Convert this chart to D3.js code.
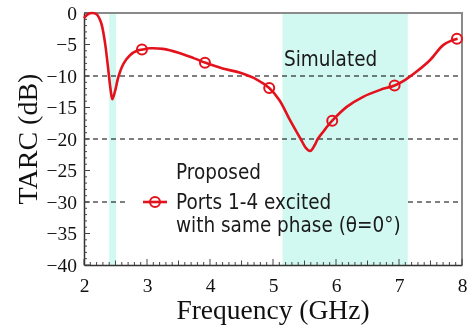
<!DOCTYPE html>
<html>
<head>
<meta charset="utf-8">
<script src="https://cdn.jsdelivr.net/npm/d3@7"></script>
<style>
  html, body { margin: 0; padding: 0; background: #fff; }
  svg { display: block; }
</style>
</head>
<body>
<svg id="chart" width="474" height="328"></svg>
<script>
// TARC of the proposed antenna, ports 1-4 excited in phase
const freqGHz = [2.00, 2.06, 2.13, 2.20, 2.27, 2.33, 2.38, 2.42, 2.45, 2.49, 2.55, 2.63, 2.73, 2.84, 2.93,
                 3.05, 3.25, 3.50, 3.75, 3.93, 4.20, 4.48, 4.75, 4.94, 5.10, 5.27, 5.44, 5.52, 5.59, 5.66,
                 5.71, 5.80, 5.94, 6.17, 6.43, 6.70, 6.93, 7.10, 7.28, 7.49, 7.70, 7.83, 7.93];
const tarcDb  = [-0.8, -0.2, 0.0, -0.2, -1.5, -4.5, -8.5, -12.0, -13.7, -12.5, -10.0, -8.0, -6.7, -6.0, -5.8,
                 -5.6, -5.7, -6.3, -7.2, -7.9, -8.8, -9.5, -10.6, -11.9, -13.8, -17.0, -20.0, -21.4, -21.9, -21.0,
                 -20.0, -18.8, -17.1, -14.9, -13.3, -12.2, -11.5, -10.6, -9.3, -7.5, -5.1, -4.4, -4.1];

// circle markers placed along the curve
const markerGHz = [2.92, 3.92, 4.94, 5.94, 6.93, 7.92];
const markerDb  = [-5.8, -7.9, -11.9, -17.1, -11.5, -4.1];

// shaded operating bands (GHz)
const bandStart = [2.40, 5.15];
const bandEnd   = [2.51, 7.14];

// axes
const xTicks = [2, 3, 4, 5, 6, 7, 8];
const yTicks = [0, -5, -10, -15, -20, -25, -30, -35, -40];
const gridDb = [-10, -20, -30];

const svg = d3.select('#chart');
const pLeft = 84, pTop = 13, pRight = 462, pBottom = 265;

const x = d3.scaleLinear().domain([2, 8]).range([pLeft, pRight]);
const y = d3.scaleLinear().domain([0, -40]).range([pTop, pBottom]);

// dashed reference lines
svg.append('g').selectAll('line').data(gridDb).join('line')
  .attr('x1', pLeft).attr('x2', pRight)
  .attr('y1', d => y(d)).attr('y2', d => y(d))
  .attr('stroke', '#555').attr('stroke-width', 1.3)
  .attr('stroke-dasharray', '5,4');

// legend backdrop hides the reference line behind the legend
const legendBox = { x0: 127, x1: 404, y0: 150, y1: 245 };
svg.append('rect')
  .attr('x', legendBox.x0).attr('y', legendBox.y0)
  .attr('width', legendBox.x1 - legendBox.x0).attr('height', legendBox.y1 - legendBox.y0)
  .attr('fill', '#fff');

// bands, multiplied so dashed lines stay visible
svg.append('g').selectAll('rect').data(bandStart).join('rect')
  .attr('x', (d) => x(d))
  .attr('width', (d, i) => x(bandEnd[i]) - x(d))
  .attr('y', pTop).attr('height', pBottom - pTop)
  .attr('fill', '#d2f9f1')
  .style('mix-blend-mode', 'multiply');

// frame: top and right in grey
svg.append('path')
  .attr('d', `M${pLeft},${pTop}H${pRight}V${pBottom}`)
  .attr('fill', 'none').attr('stroke', '#8a8a8a').attr('stroke-width', 2);

// x axis (ticks inward)
const serif = '"Liberation Serif", "Times New Roman", serif';
const xAxis = d3.axisBottom(x).tickValues(xTicks).tickSize(0).tickPadding(0).tickFormat(d3.format('d'));
const gx = svg.append('g').attr('transform', `translate(0,${pBottom})`).call(xAxis);
gx.select('.domain').attr('stroke', '#333').attr('stroke-width', 1.5);
gx.selectAll('text').attr('y', 27).attr('dy', 0)
  .attr('font-family', serif).attr('font-size', 19.5).attr('fill', '#111');
const xMinor = d3.range(20, 81).map(v => v / 10);
svg.append('g').selectAll('line').data(xMinor).join('line')
  .attr('x1', d => x(d)).attr('x2', d => x(d))
  .attr('y1', pBottom)
  .attr('y2', (d, i) => pBottom - (i % 10 === 0 ? 6 : (i % 5 === 0 ? 4.5 : 3)))
  .attr('stroke', '#444').attr('stroke-width', 1);

// y axis (ticks inward)
const yAxis = d3.axisLeft(y).tickValues(yTicks).tickSize(0).tickPadding(7).tickFormat(d3.format('d'));
const gy = svg.append('g').attr('transform', `translate(${pLeft},0)`).call(yAxis);
gy.select('.domain').attr('stroke', '#333').attr('stroke-width', 1.5);
gy.selectAll('text')
  .attr('font-family', serif).attr('font-size', 19.5).attr('fill', '#111');
const yMinor = d3.range(0, 41).map(v => -v);
svg.append('g').selectAll('line').data(yMinor).join('line')
  .attr('y1', d => y(d)).attr('y2', d => y(d))
  .attr('x1', pLeft)
  .attr('x2', (d, i) => pLeft + (i % 5 === 0 ? 6 : 3))
  .attr('stroke', '#444').attr('stroke-width', 1);

// axis titles
svg.append('text')
  .attr('x', (pLeft + pRight) / 2).attr('y', 319)
  .attr('text-anchor', 'middle')
  .attr('font-family', serif).attr('font-size', 27.5).attr('fill', '#111')
  .text('Frequency (GHz)');
svg.append('text')
  .attr('transform', `translate(37,${(pTop + pBottom) / 2}) rotate(-90)`)
  .attr('text-anchor', 'middle')
  .attr('font-family', serif).attr('font-size', 28).attr('fill', '#111')
  .text('TARC (dB)');

// TARC curve
const red = '#e4121c';
const line = d3.line()
  .x((d, i) => x(freqGHz[i]))
  .y(d => y(d))
  .curve(d3.curveCatmullRom.alpha(0.5));
svg.append('path')
  .attr('d', line(tarcDb))
  .attr('fill', 'none').attr('stroke', red).attr('stroke-width', 2.6)
  .attr('stroke-linejoin', 'round');

svg.append('g').selectAll('circle').data(markerDb).join('circle')
  .attr('cx', (d, i) => x(markerGHz[i])).attr('cy', d => y(d))
  .attr('r', 5)
  .attr('fill', 'none').attr('stroke', red).attr('stroke-width', 2);

// annotations: a narrow humanist sans, slightly condensed
const sans = '"DejaVu Sans", Verdana, sans-serif';
function label(px, py, lines, step) {
  const t = svg.append('text')
    .attr('transform', `translate(${px},${py}) scale(0.9,1)`)
    .attr('font-family', sans).attr('font-size', 20.5).attr('fill', '#1a1a1a');
  lines.forEach((s, i) => t.append('tspan').attr('x', 0).attr('y', i * step).text(s));
}
label(284, 66, ['Simulated'], 0);
label(176, 179, ['Proposed'], 0);

// legend entry
const legY = 202;
svg.append('line')
  .attr('x1', 143).attr('x2', 167).attr('y1', legY).attr('y2', legY)
  .attr('stroke', red).attr('stroke-width', 2.6);
svg.append('circle').attr('cx', 155).attr('cy', legY).attr('r', 5)
  .attr('fill', 'none').attr('stroke', red).attr('stroke-width', 2);
label(176, 209, ['Ports 1-4 excited', 'with same phase (\u03B8=0\u00B0)'], 23);
</script>
</body>
</html>
